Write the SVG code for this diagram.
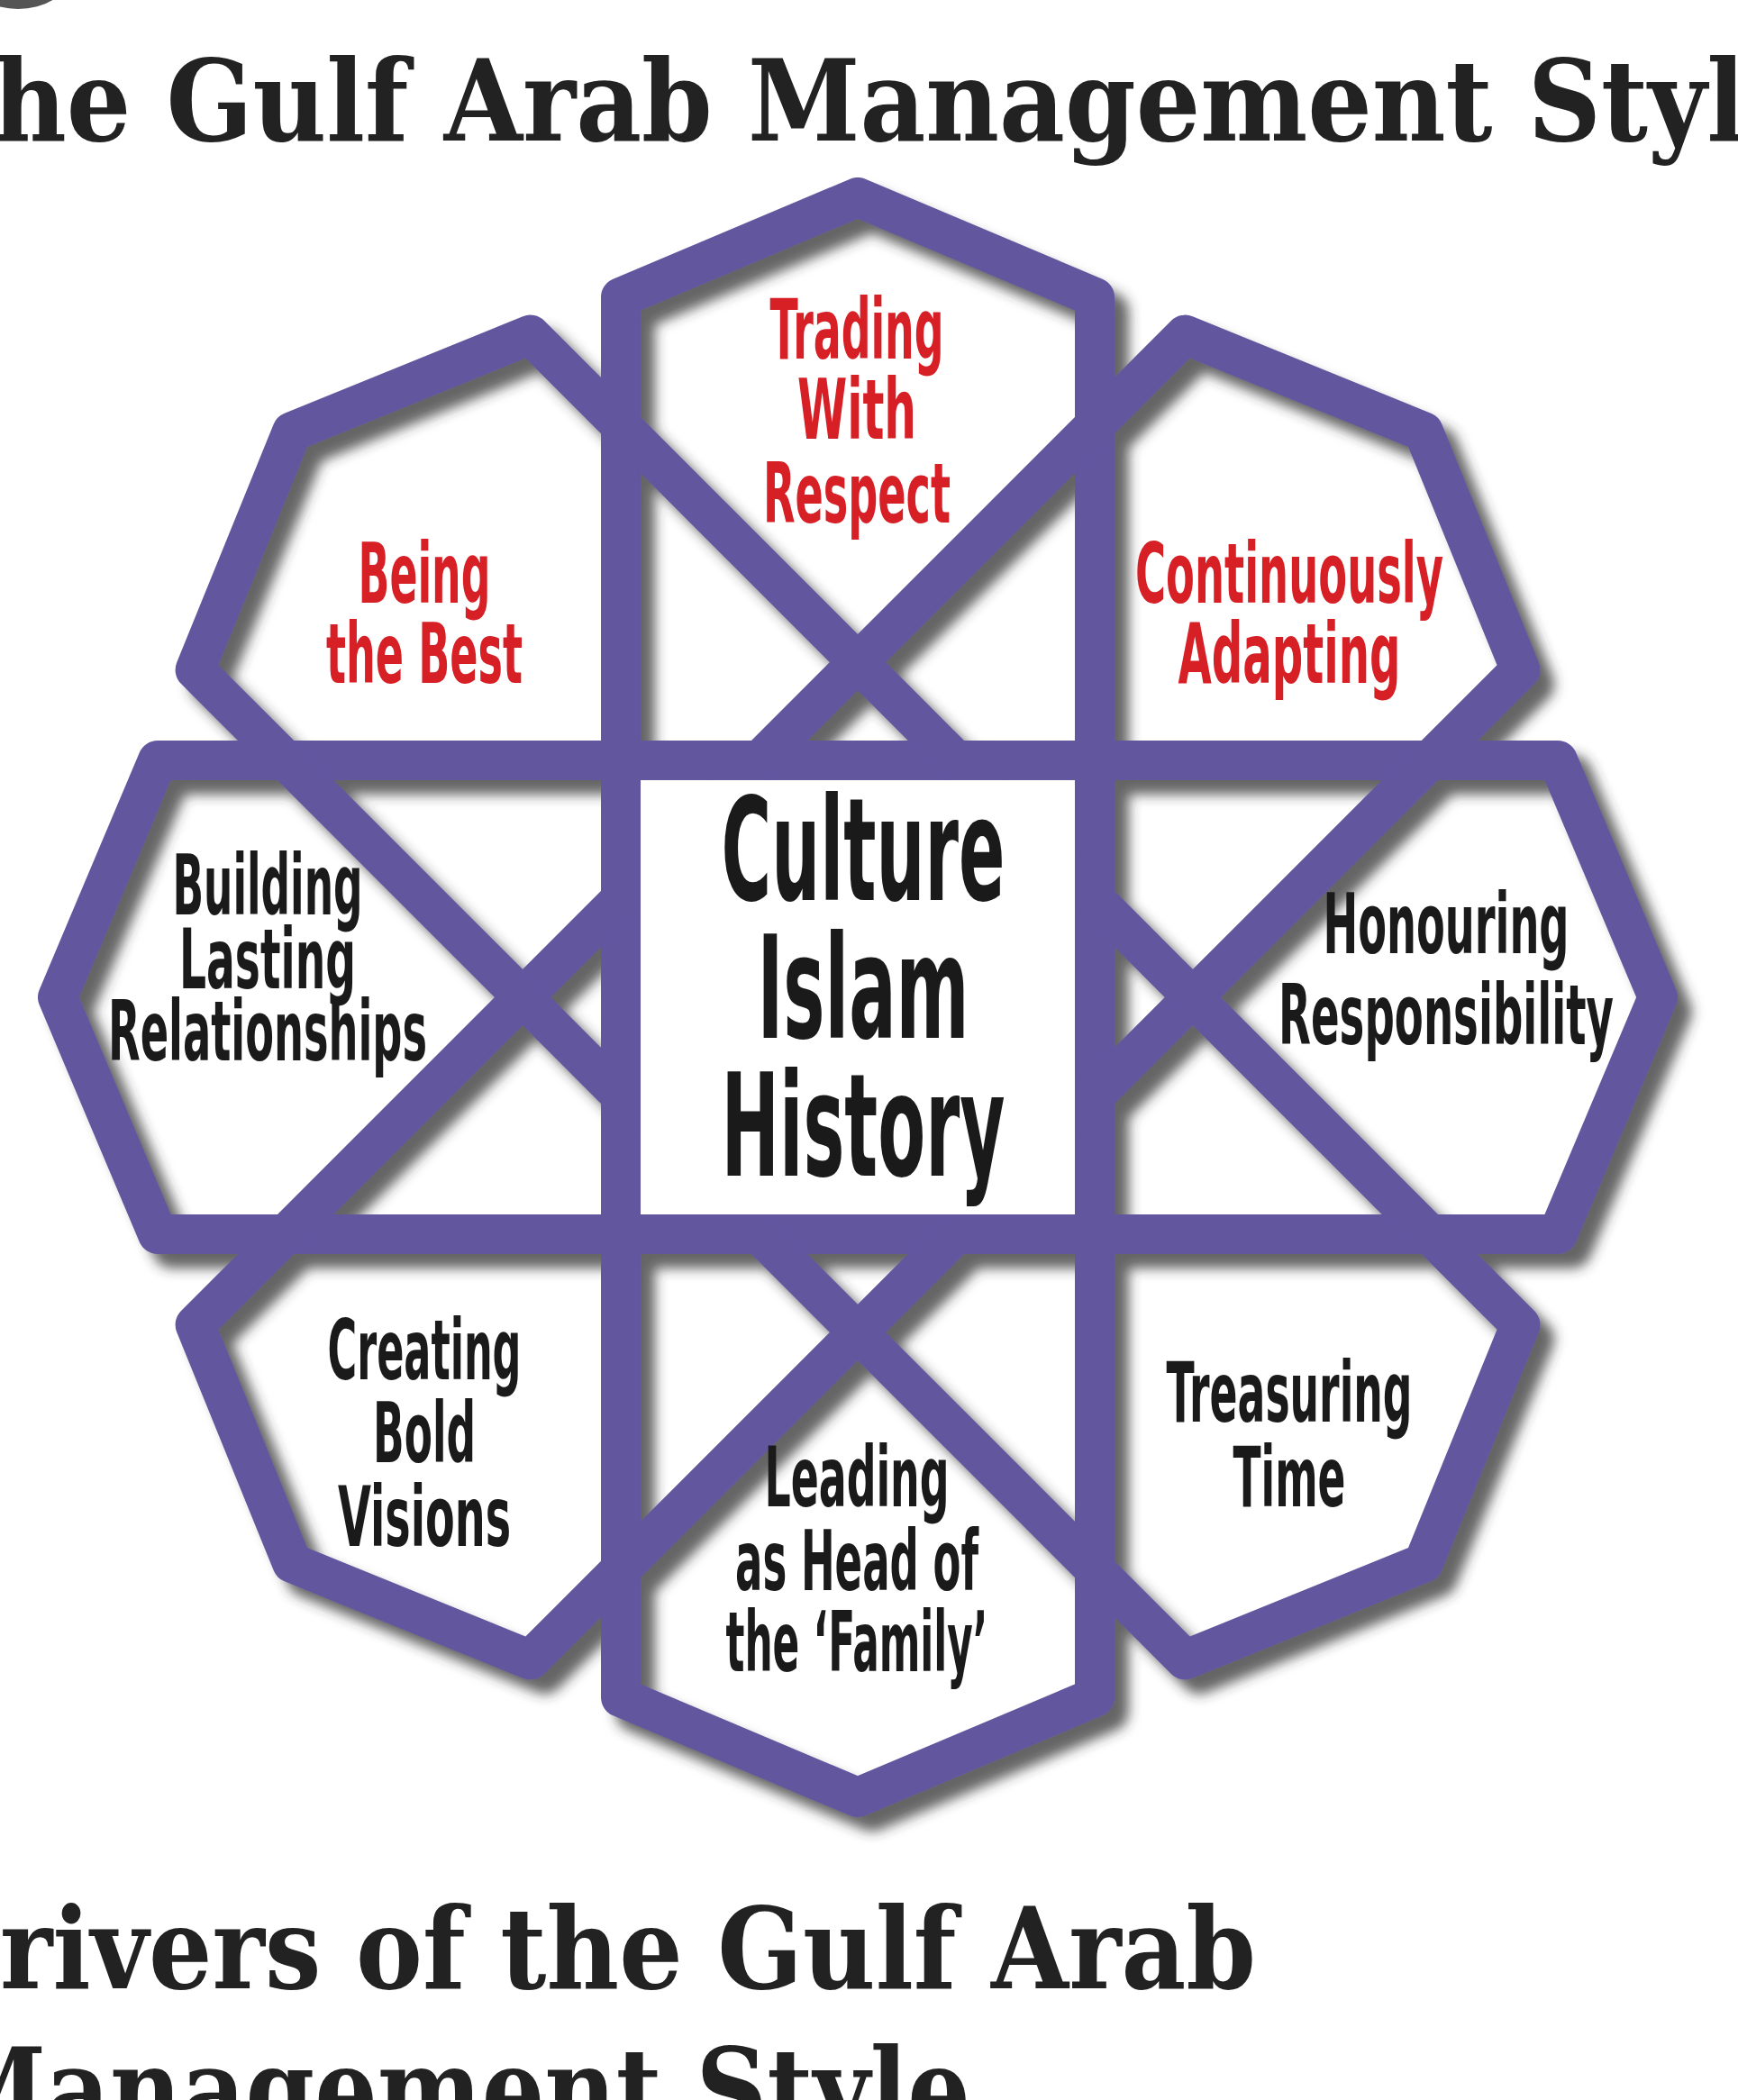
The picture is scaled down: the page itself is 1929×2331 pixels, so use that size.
<svg xmlns="http://www.w3.org/2000/svg" width="1929" height="2331" viewBox="0 0 1929 2331">
<style>
.hx{fill:none;stroke:#62569e;stroke-width:44;stroke-linejoin:round}
.p{font-family:"DejaVu Sans Condensed","DejaVu Sans",sans-serif;font-weight:bold;font-size:92px;text-anchor:middle}
.r{fill:#d71f26}.k{fill:#1a1a1a}
.c{font-family:"DejaVu Sans Condensed","DejaVu Sans",sans-serif;font-weight:bold;font-size:159px;text-anchor:middle;fill:#1a1a1a}
.t{font-family:"DejaVu Serif","Liberation Serif",serif;font-weight:bold;font-size:125px;fill:#222}
</style>
<defs>
<filter id="sh" x="-10%" y="-10%" width="125%" height="125%"><feDropShadow dx="16" dy="16" stdDeviation="7" flood-color="#333" flood-opacity="0.75"/></filter>
<path id="hex" d="M0,-888 L263,-777 L263,777 L0,888 L-263,777 L-263,-777 Z"/>
</defs>
<rect width="1929" height="2331" fill="#fff"/>
<ellipse cx="20" cy="-25" rx="55" ry="35" fill="#555"/>
<text class="t" x="-8" y="156" textLength="1945" lengthAdjust="spacingAndGlyphs">he Gulf Arab Management Styl</text>
<g id="star" filter="url(#sh)">
<g transform="translate(952,1107)">
<use href="#hex" class="hx"/>
<use href="#hex" class="hx" transform="rotate(90)"/>
<use href="#hex" class="hx" transform="rotate(45)"/>
<use href="#hex" class="hx" transform="rotate(-45)"/>
<rect x="-241" y="-241" width="482" height="482" fill="#fff"/>
</g>
</g>
<g id="connectors"></g>
<g id="n-center"><text class="c" x="958" y="999" textLength="315" lengthAdjust="spacingAndGlyphs">Culture</text><text class="c" x="958" y="1152" textLength="235" lengthAdjust="spacingAndGlyphs">Islam</text><text class="c" x="958" y="1305" textLength="315" lengthAdjust="spacingAndGlyphs">History</text></g>
<g id="n-trading"><text class="p r" x="951" y="398" textLength="193" lengthAdjust="spacingAndGlyphs">Trading</text><text class="p r" x="951" y="487" textLength="132" lengthAdjust="spacingAndGlyphs">With</text><text class="p r" x="951" y="580" textLength="208" lengthAdjust="spacingAndGlyphs">Respect</text></g>
<g id="n-best"><text class="p r" x="471" y="669" textLength="147" lengthAdjust="spacingAndGlyphs">Being</text><text class="p r" x="471" y="758" textLength="218" lengthAdjust="spacingAndGlyphs">the Best</text></g>
<g id="n-adapt"><text class="p r" x="1431" y="669" textLength="342" lengthAdjust="spacingAndGlyphs">Continuously</text><text class="p r" x="1431" y="758" textLength="247" lengthAdjust="spacingAndGlyphs">Adapting</text></g>
<g id="n-build"><text class="p k" x="297" y="1015" textLength="211" lengthAdjust="spacingAndGlyphs">Building</text><text class="p k" x="297" y="1097" textLength="196" lengthAdjust="spacingAndGlyphs">Lasting</text><text class="p k" x="297" y="1177" textLength="354" lengthAdjust="spacingAndGlyphs">Relationships</text></g>
<g id="n-honour"><text class="p k" x="1605" y="1058" textLength="273" lengthAdjust="spacingAndGlyphs">Honouring</text><text class="p k" x="1605" y="1159" textLength="372" lengthAdjust="spacingAndGlyphs">Responsibility</text></g>
<g id="n-create"><text class="p k" x="471" y="1531" textLength="215" lengthAdjust="spacingAndGlyphs">Creating</text><text class="p k" x="471" y="1623" textLength="114" lengthAdjust="spacingAndGlyphs">Bold</text><text class="p k" x="471" y="1716" textLength="192" lengthAdjust="spacingAndGlyphs">Visions</text></g>
<g id="n-time"><text class="p k" x="1431" y="1578" textLength="273" lengthAdjust="spacingAndGlyphs">Treasuring</text><text class="p k" x="1431" y="1672" textLength="125" lengthAdjust="spacingAndGlyphs">Time</text></g>
<g id="n-lead"><text class="p k" x="951" y="1672" textLength="205" lengthAdjust="spacingAndGlyphs">Leading</text><text class="p k" x="951" y="1765" textLength="270" lengthAdjust="spacingAndGlyphs">as Head of</text><text class="p k" x="951" y="1855" textLength="291" lengthAdjust="spacingAndGlyphs">the ‘Family’</text></g>
<text class="t" x="0" y="2207" textLength="1394" lengthAdjust="spacingAndGlyphs">rivers of the Gulf Arab</text>
<text class="t" x="-70" y="2363" textLength="1147" lengthAdjust="spacingAndGlyphs">Management Style</text>
</svg>
